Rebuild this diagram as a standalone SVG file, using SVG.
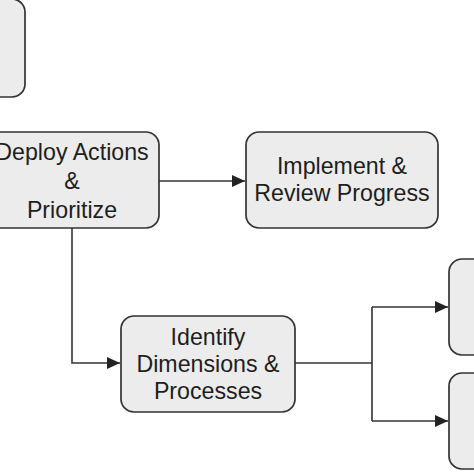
<svg xmlns="http://www.w3.org/2000/svg" width="474" height="474" viewBox="0 0 474 474">
<defs>
<style>
.box{fill:#ececec;stroke:#333;stroke-width:1.7}
.t{font-family:"Liberation Sans",Arial,sans-serif;font-size:23.2px;fill:#1e1e1e;text-anchor:middle}
.c{fill:none;stroke:#333;stroke-width:1.6}
</style>
<marker id="ah" markerWidth="14" markerHeight="14" refX="13" refY="6.5" orient="auto" markerUnits="userSpaceOnUse">
<path d="M0,0.5 L13,6.5 L0,12.5 Z" fill="#222"/>
</marker>
</defs>
<rect width="474" height="474" fill="#fff"/>
<g id="connectors">
<path class="c" d="M159,181 H245" marker-end="url(#ah)"/>
<path class="c" d="M72,228 V363 H120" marker-end="url(#ah)"/>
<path class="c" d="M295,363 H372"/>
<path class="c" d="M372,307 V421"/>
<path class="c" d="M372,307 H448" marker-end="url(#ah)"/>
<path class="c" d="M372,421 H448" marker-end="url(#ah)"/>
</g>
<g id="node-top-left">
<rect class="box" x="-80" y="-1" width="105" height="98" rx="13"/>
</g>
<g id="node-deploy">
<rect class="box" x="-15" y="132" width="174" height="96" rx="13"/>
<text class="t" x="72" y="160">Deploy Actions</text>
<text class="t" x="72" y="189">&amp;</text>
<text class="t" x="72" y="218">Prioritize</text>
</g>
<g id="node-implement">
<rect class="box" x="246" y="132" width="192" height="96" rx="13"/>
<text class="t" x="342" y="174">Implement &amp;</text>
<text class="t" x="342" y="201">Review Progress</text>
</g>
<g id="node-identify">
<rect class="box" x="121" y="316" width="174" height="96" rx="13"/>
<text class="t" x="208" y="345">Identify</text>
<text class="t" x="208" y="372">Dimensions &amp;</text>
<text class="t" x="208" y="399">Processes</text>
</g>
<g id="node-right-1">
<rect class="box" x="449" y="259" width="80" height="96" rx="13"/>
</g>
<g id="node-right-2">
<rect class="box" x="449" y="373" width="80" height="96" rx="13"/>
</g>
</svg>
